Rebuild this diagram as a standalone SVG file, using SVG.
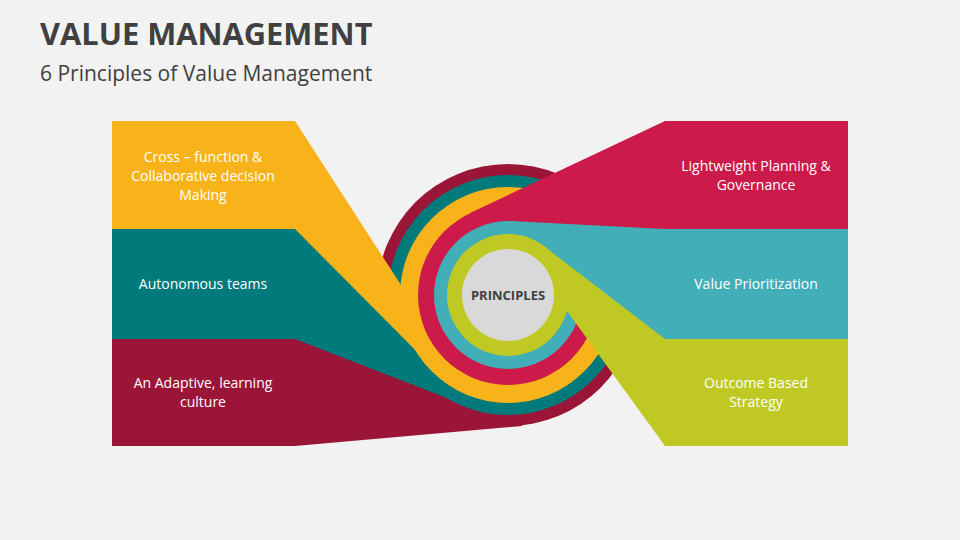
<svg xmlns="http://www.w3.org/2000/svg" width="960" height="540" viewBox="0 0 960 540">
  <style>
    .title { font-family: "Open Sans", "Noto Sans", "Liberation Sans", sans-serif; font-weight: bold; font-size: 30.8px; fill: #404040; }
    .sub { font-family: "Open Sans", "Noto Sans", "Liberation Sans", sans-serif; font-size: 21px; fill: #404040; }
    .lbl { font-family: "Open Sans", "Noto Sans", "Liberation Sans", sans-serif; font-size: 14px; fill: #FFFFFF; text-anchor: middle; }
    .ctr { font-family: "Open Sans", "Noto Sans", "Liberation Sans", sans-serif; font-weight: bold; font-size: 13px; fill: #404040; text-anchor: middle; }
    .maroon { fill: #9A1538; }
    .teal { fill: #017A7B; }
    .yellow { fill: #F8B31B; }
    .crimson { fill: #CC1A4A; }
    .lteal { fill: #41AEB8; }
    .lime { fill: #C0C923; }
    .gray { fill: #D9D9D9; }
  </style>
  <rect x="0" y="0" width="960" height="540" fill="#F2F2F2"/>
  <text class="title" x="40" y="45">VALUE MANAGEMENT</text>
  <text class="sub" x="40" y="81">6 Principles of Value Management</text>

  <g id="node-adaptive-culture">
    <circle class="maroon" cx="508" cy="295" r="131"/>
    <polygon class="maroon" points="112,335 300,335 470,400 508,330 522,426 295,446 112,446"/>
    <text class="lbl" x="203" y="388">An Adaptive, learning</text>
    <text class="lbl" x="203" y="407">culture</text>
  </g>

  <g id="node-autonomous-teams">
    <circle class="teal" cx="508" cy="295" r="120"/>
    <polygon class="teal" points="112,225 300,225 430,330 465,405 295,339 112,339"/>
    <text class="lbl" x="203" y="289">Autonomous teams</text>
  </g>

  <g id="node-cross-function">
    <circle class="yellow" cx="508" cy="295" r="108"/>
    <polygon class="yellow" points="112,121 295,121 401,285 508,295 445,380 295,229 112,229"/>
    <text class="lbl" x="203" y="162">Cross – function &amp;</text>
    <text class="lbl" x="203" y="181">Collaborative decision</text>
    <text class="lbl" x="203" y="200">Making</text>
  </g>

  <g id="node-lightweight-planning">
    <circle class="crimson" cx="508" cy="295" r="90"/>
    <polygon class="crimson" points="848,121 665,121 470,213 508,295 560,240 848,232"/>
    <text class="lbl" x="756" y="171">Lightweight Planning &amp;</text>
    <text class="lbl" x="756" y="190">Governance</text>
  </g>

  <g id="node-value-prioritization">
    <circle class="lteal" cx="508" cy="295" r="74"/>
    <polygon class="lteal" points="510,221 665,229 848,229 848,345 660,345 545,262 508,295"/>
    <text class="lbl" x="756" y="289">Value Prioritization</text>
  </g>

  <g id="node-outcome-strategy">
    <circle class="lime" cx="508" cy="295" r="61"/>
    <polygon class="lime" points="545,247 665,339 848,339 848,446 665,446 567,311 508,295"/>
    <text class="lbl" x="756" y="388">Outcome Based</text>
    <text class="lbl" x="756" y="407">Strategy</text>
  </g>

  <g id="node-principles">
    <circle class="gray" cx="508" cy="295" r="46"/>
    <text class="ctr" x="508" y="300">PRINCIPLES</text>
  </g>

  <g id="connectors"></g>
</svg>
